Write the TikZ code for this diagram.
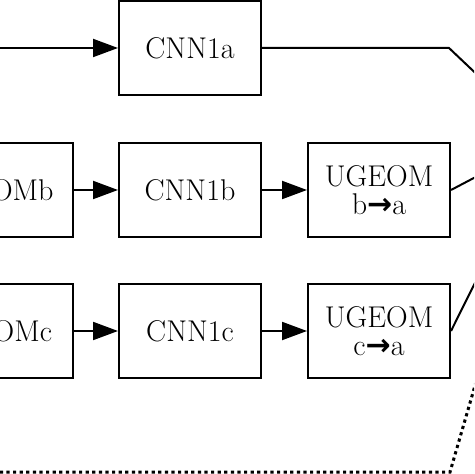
\documentclass[tikz,border=0pt]{standalone}
\usepackage{fontspec}
\newfontfamily\arrowfont{DejaVu Sans}
\usetikzlibrary{arrows.meta}
\begin{document}
\begin{tikzpicture}[x=0.5pt,y=-0.5pt,
 blk/.style={draw,line width=1pt,minimum width=71pt,minimum height=47pt,inner sep=0pt,font=\fontsize{15}{18}\selectfont,align=center},
 arr/.style={line width=1pt,-{Triangle[length=12.5pt,width=9pt]}},
 ln/.style={line width=1pt},
 dots/.style={line width=1.5pt,dash pattern=on 1.6pt off 1.7pt}]
\useasboundingbox (0,0) rectangle (474,474);
\clip (0,0) rectangle (474,474);
% row a
\coordinate (ina) at (-20,48);
\node[blk] (cnna) at (190,48) {CNN1a};
% row b
\node[blk] (geob) at (2,190) {GEOMb};
\node[blk] (cnnb) at (190,190) {CNN1b};
\node[blk] (ugb) at (379,190) {UGEOM\\[-4pt]b{\arrowfont\bfseries →}a};
% row c
\node[blk] (geoc) at (2,331) {GEOMc};
\node[blk] (cnnc) at (190,331) {CNN1c};
\node[blk] (ugc) at (379,331) {UGEOM\\[-4pt]c{\arrowfont\bfseries →}a};
% merge point (outside the visible area)
\coordinate (m) at (546,140);
\coordinate (ka) at (449,48);
\coordinate (kd) at (450,472);
\coordinate (ind) at (-20,472);
% connectors
\draw[arr] (ina) -- (cnna);
\draw[arr] (geob) -- (cnnb);
\draw[arr] (cnnb) -- (ugb);
\draw[arr] (geoc) -- (cnnc);
\draw[arr] (cnnc) -- (ugc);
\draw[ln] (cnna) -- (ka) -- (m);
\draw[ln] (ugb.east) -- (m);
\draw[ln] (ugc.east) -- (m);
\draw[dots] (ind) -- (kd) -- (m);
\end{tikzpicture}
\end{document}
